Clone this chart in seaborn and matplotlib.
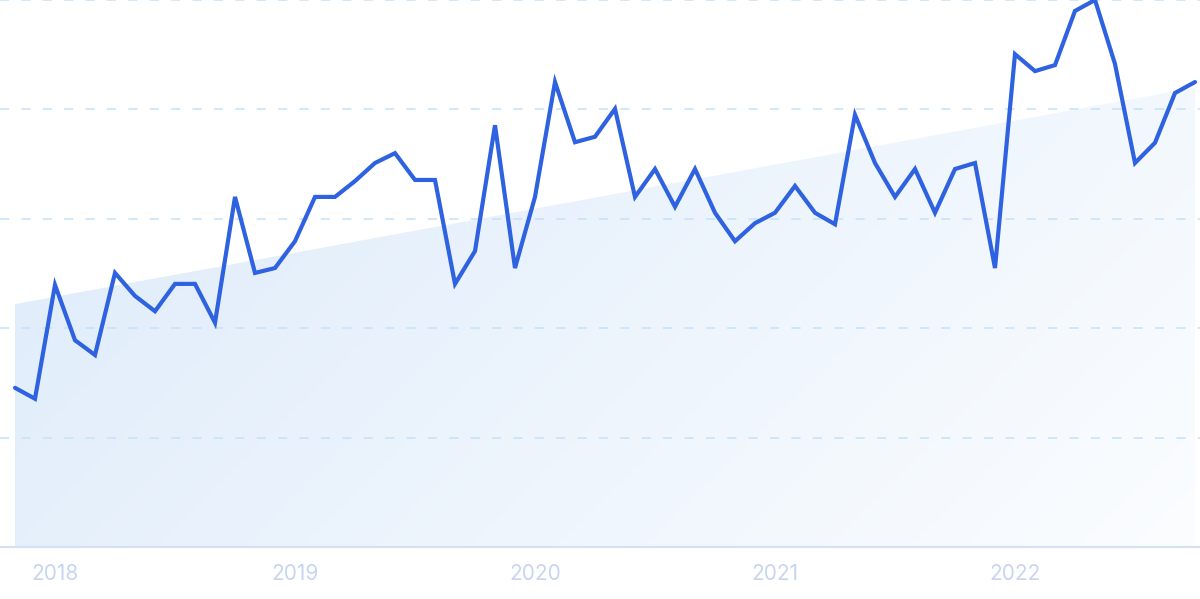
import numpy as np
import pandas as pd
import matplotlib
matplotlib.use("Agg")
import matplotlib.pyplot as plt
import seaborn as sns
from matplotlib.colors import LinearSegmentedColormap

# ---- data ----
months = pd.date_range("2017-11-01", periods=60, freq="MS")
values = [29.1, 27.1, 47.9, 37.8, 35.1, 50.1, 45.9, 43.1, 48.1, 48.1,
          41.0, 64.0, 50.1, 51.0, 55.9, 64.0, 64.0, 66.9, 70.2, 72.0,
          67.1, 67.1, 48.1, 54.1, 77.1, 51.0, 64.0, 85.0, 74.0, 75.0,
          80.1, 64.0, 69.1, 62.2, 69.1, 61.1, 55.9, 59.2, 61.1, 66.0,
          61.1, 59.0, 79.0, 70.2, 64.0, 69.1, 61.1, 69.1, 70.2, 51.0,
          90.1, 87.0, 88.1, 98.0, 100.0, 88.3, 70.2, 73.9, 83.0, 85.0]
trend_start, trend_end = 44.4, 84.0
year_labels = ["2018", "2019", "2020", "2021", "2022"]
y_grid = [20, 40, 60, 80, 100]

df = pd.DataFrame({"idx": np.arange(len(values)), "value": values, "month": months})
trend = np.linspace(trend_start, trend_end, len(values))
tick_pos = [i for i, m in enumerate(months) if m.month == 1]

sns.set_theme(style="white")
plt.rcParams["font.family"] = ["Inter", "DejaVu Sans"]

fig = plt.figure(figsize=(12, 5.99), dpi=100)
ax = fig.add_axes([0, (599 - 547) / 599, 1, 547 / 599])
ax.set_xlim(-0.75, 59.25)
ax.set_ylim(0, 100)

# gradient trend fill
poly = ax.fill_between(df["idx"], 0, trend, facecolor="none", edgecolor="none")
cmap = LinearSegmentedColormap.from_list("g", ["#dceafa", "#fbfdff"])
gx, gy = np.meshgrid(np.linspace(0, 1, 300), np.linspace(0, 1, 200))
grad = 0.75 * gx + 0.35 * (1 - gy)
grad = grad / grad.max()
im = ax.imshow(grad, extent=[0, 59, 0, 100], origin="lower", aspect="auto",
               cmap=cmap, zorder=1, interpolation="bilinear")
im.set_clip_path(poly.get_paths()[0], transform=ax.transData)

# gridlines
for g in y_grid:
    ax.axhline(g, color="#c4e2fb", lw=1.1, ls=(0, (6, 8)), zorder=2)
ax.axhline(0, color="#d3e0f6", lw=1.5, zorder=2, clip_on=False)

sns.lineplot(data=df, x="idx", y="value", ax=ax, color="#2f62e0", lw=3.0,
             zorder=3, clip_on=False)
ax.lines[-1].set_solid_joinstyle("miter")

ax.set_xticks(tick_pos)
ax.set_xticklabels(year_labels, color="#c8d5f1", fontsize=15)
ax.tick_params(axis="x", length=0, pad=12)
ax.set_yticks([])
ax.set_xlabel("")
ax.set_ylabel("")
for s in ax.spines.values():
    s.set_visible(False)

fig.savefig("out.png", dpi=100, facecolor="white")
